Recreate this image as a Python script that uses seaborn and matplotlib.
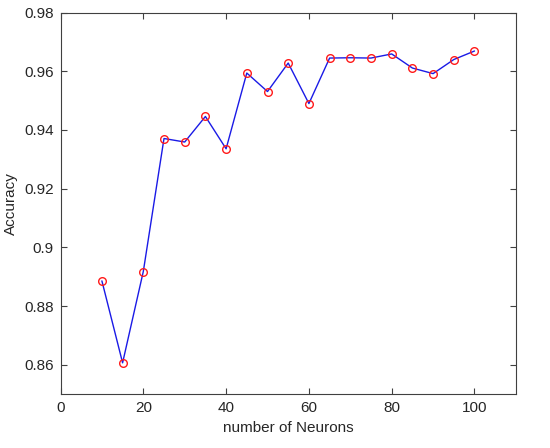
import matplotlib
matplotlib.use("Agg")
import matplotlib.pyplot as plt
import seaborn as sns
import pandas as pd
from matplotlib.ticker import FuncFormatter

neurons = [10, 15, 20, 25, 30, 35, 40, 45, 50, 55, 60, 65, 70, 75, 80, 85, 90, 95, 100]
accuracy = [0.8886, 0.8607, 0.8918, 0.9371, 0.9359, 0.9446, 0.9336, 0.9594, 0.9531,
            0.9628, 0.9490, 0.9645, 0.9646, 0.9645, 0.9659, 0.9611, 0.9592, 0.9640, 0.9669]
x_ticks = [0, 20, 40, 60, 80, 100]
y_ticks = [0.86, 0.88, 0.90, 0.92, 0.94, 0.96, 0.98]

sns.set_style("white")
plt.rcParams['font.family'] = ['Liberation Sans', 'DejaVu Sans']

df = pd.DataFrame({"neurons": neurons, "accuracy": accuracy})

fig = plt.figure(figsize=(5.5, 4.48), dpi=100)
ax = fig.add_axes([0.110, 0.120, 0.828, 0.852])

sns.lineplot(data=df, x="neurons", y="accuracy", ax=ax, color="#1a1ae6",
             linewidth=1.0, marker="o", markersize=5.5, markerfacecolor="none",
             markeredgecolor="#ff1a1a", markeredgewidth=1.0)

ax.set_xlim(0, 110)
ax.set_ylim(0.85, 0.98)
ax.set_xticks(x_ticks)
ax.set_yticks(y_ticks)
ax.yaxis.set_major_formatter(FuncFormatter(lambda v, p: f"{v:g}"))
ax.xaxis.set_major_formatter(FuncFormatter(lambda v, p: f"{v:g}"))

edge = "#404040"
txt = "#262626"
for s in ax.spines.values():
    s.set_color(edge)
    s.set_linewidth(0.8)
    s.set_visible(True)
ax.tick_params(direction="in", length=4, width=0.8, color=edge, labelcolor=txt,
               labelsize=11, top=True, right=True, bottom=True, left=True, pad=5)
ax.set_xlabel("number of Neurons", fontsize=11, color=txt, labelpad=4)
ax.set_ylabel("Accuracy", fontsize=11, color=txt, labelpad=4)

fig.savefig("out.png", dpi=100)
